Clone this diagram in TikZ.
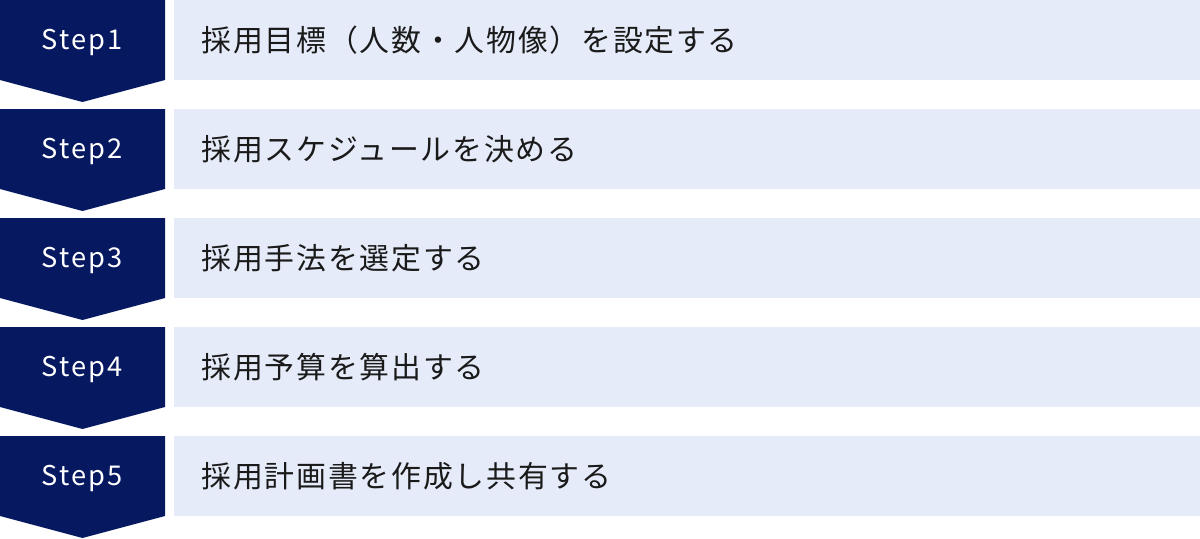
\documentclass[tikz,border=0pt]{standalone}
\usepackage{fontspec}
\newfontfamily\jpfont{Noto Sans CJK JP}[LetterSpace=6]
\newfontfamily\stepfont{Noto Sans CJK JP}[LetterSpace=8]
\usetikzlibrary{positioning,calc}

\definecolor{navy}{RGB}{6,24,96}
\definecolor{paleblue}{RGB}{229,235,248}
\definecolor{ink}{RGB}{26,26,26}

\begin{document}
\begin{tikzpicture}[x=0.02cm, y=-0.02cm]

        % Bounding box matches the reference size
        \useasboundingbox (0, 0) rectangle (1200, 538);

        \tikzset{
            chevron/.style={fill=navy, draw=none},
            itembox/.style={fill=paleblue, draw=none, rectangle,
                minimum width=20.52cm, minimum height=1.6cm,
                inner sep=0pt, outer sep=0pt},
            steplabel/.style={text=white, inner sep=0pt,
                font=\stepfont\fontsize{15.5pt}{19pt}\selectfont},
            itemtext/.style={text=ink, inner sep=0pt, anchor=west,
                font=\jpfont\fontsize{17pt}{20pt}\selectfont}
        }

        % One row per step
        \foreach \i/\t in {1/採用目標（人数・人物像）を設定する,
                           2/採用スケジュールを決める,
                           3/採用手法を選定する,
                           4/採用予算を算出する,
                           5/採用計画書を作成し共有する}
        {
            \pgfmathsetmacro{\r}{(\i-1)*109}
            \fill[chevron] (0, \r) -- (165, \r) -- (165, \r+80)
                -- (82.5, \r+102) -- (0, \r+80) -- cycle;
            \node[steplabel] (S\i) at (82.5, \r+42) {Step\i};
            \node[itembox] (B\i) at (687, \r+40) {};
            \node[itemtext] (T\i) at ([xshift=27*0.02cm]B\i.west) {\t};
        }

        \end{tikzpicture}
\end{document}
